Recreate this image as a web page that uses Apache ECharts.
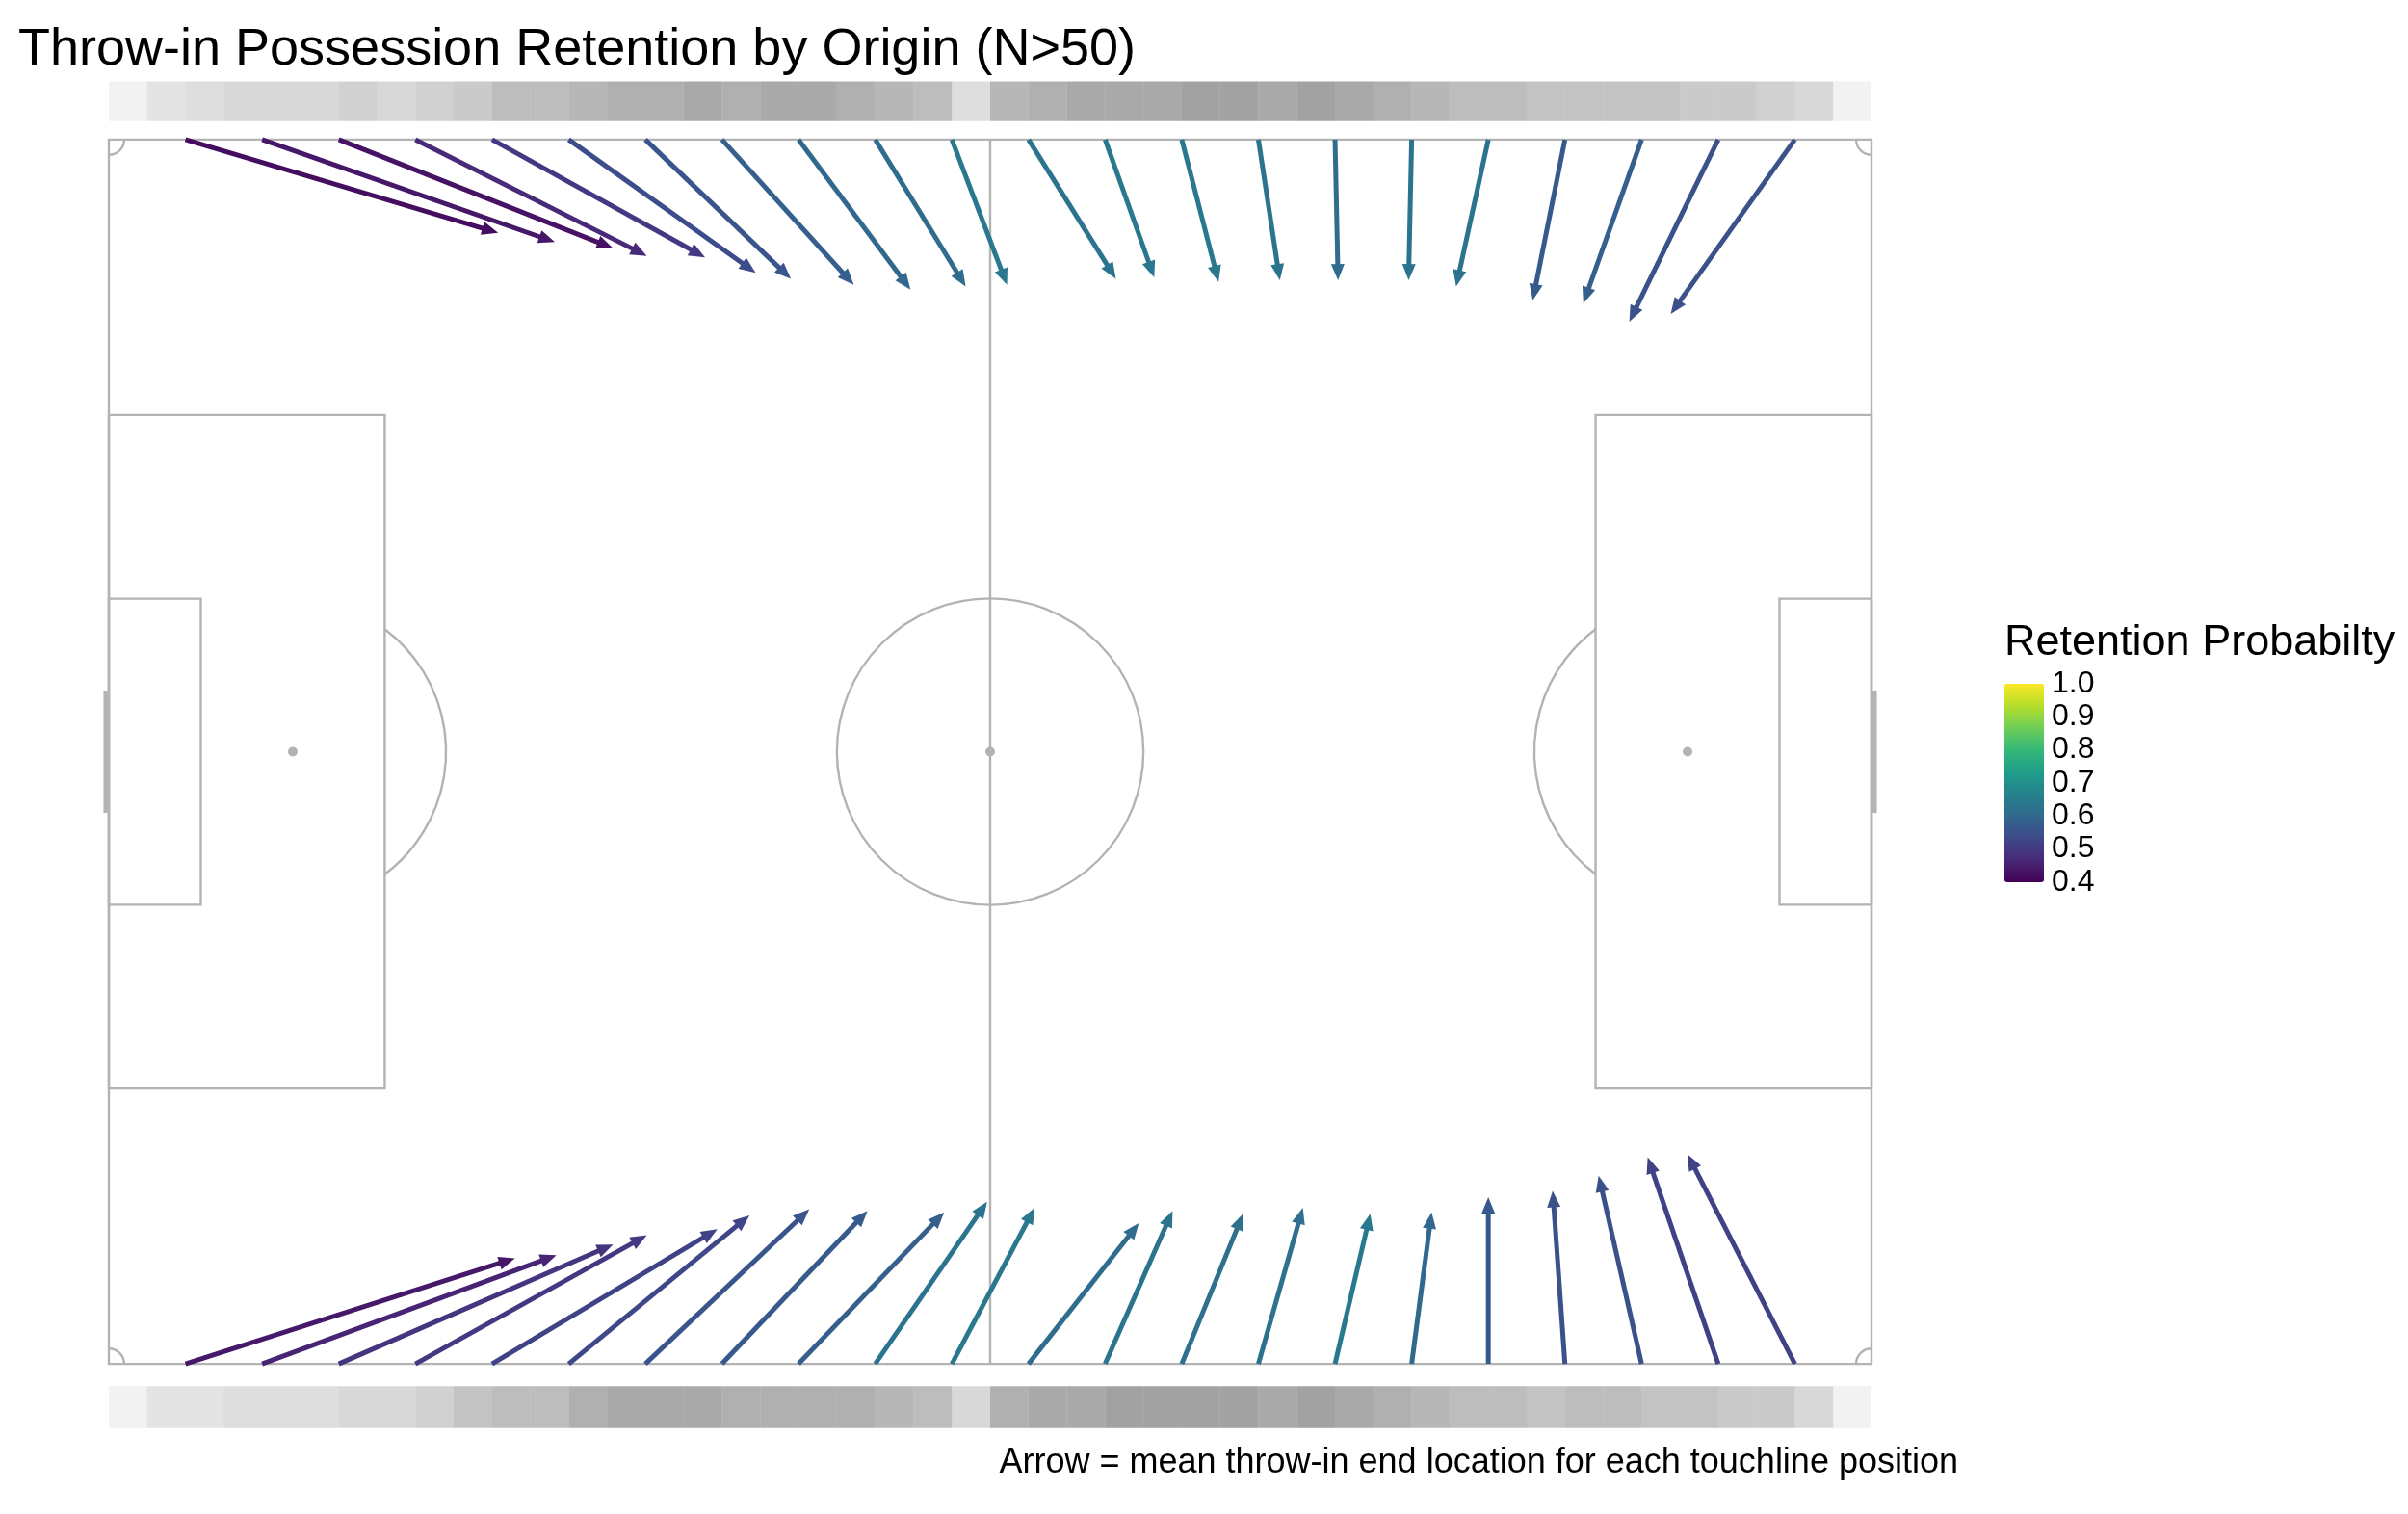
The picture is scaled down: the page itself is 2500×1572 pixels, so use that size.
<!DOCTYPE html>
<html lang="en">
<head>
<meta charset="UTF-8">
<title>Throw-in Possession Retention by Origin</title>
<style>html,body{margin:0;padding:0;background:#fff}#main{width:2500px;height:1572px}</style>
</head>
<body>
<div id="main"></div>
<script src="https://cdn.jsdelivr.net/npm/echarts@6/dist/echarts.min.js"></script>
<script>
// throw-in origins along the touchline (pitch units, 115 x 80)
var originX = [5,10,15,20,25,30,35,40,45,50,55,60,65,70,75,80,85,90,95,100,105,110];

// top touchline (y = 80): mean end location + retention
var topEndX = [25.4,29.1,32.9,35.1,38.9,42.2,44.5,48.6,52.3,55.9,58.6,65.7,68.2,72.4,76.4,80.2,84.8,87.9,92.9,96.2,99.2,101.9];
var topEndY = [73.9,73.3,72.9,72.4,72.3,71.3,70.9,70.5,70.2,70.4,70.5,70.9,71.0,70.7,70.8,70.8,70.8,70.4,69.5,69.3,68.1,68.6];
var topRet  = [0.42,0.44,0.43,0.47,0.50,0.54,0.56,0.58,0.60,0.61,0.64,0.63,0.64,0.64,0.63,0.61,0.63,0.63,0.57,0.58,0.55,0.55];

// bottom touchline (y = 0)
var botEndX = [26.5,29.2,32.9,35.1,39.7,41.8,45.7,49.5,54.5,57.3,60.4,67.2,69.4,74.0,77.9,82.3,86.3,90.0,94.2,97.2,100.4,103.0];
var botEndY = [6.9,7.1,7.8,8.4,8.8,9.7,10.1,10.0,9.9,10.6,10.2,9.2,10.0,9.8,10.2,9.8,9.9,10.9,11.3,12.3,13.5,13.7];
var botRet  = [0.44,0.46,0.49,0.50,0.52,0.53,0.56,0.57,0.58,0.63,0.64,0.61,0.63,0.62,0.62,0.64,0.60,0.57,0.55,0.55,0.52,0.52];

// rug density of throw-in origins, 2.5-unit bins
var rugBin = 2.5;
var topRug = [0.1,0.2,0.25,0.3,0.3,0.3,0.35,0.3,0.35,0.4,0.5,0.5,0.55,0.6,0.6,0.65,0.6,0.65,0.65,0.6,0.55,0.5,0.25,0.55,0.6,0.65,0.65,0.65,0.7,0.7,0.65,0.7,0.65,0.6,0.55,0.5,0.5,0.45,0.45,0.45,0.45,0.4,0.4,0.35,0.3,0.1];
var botRug = [0.1,0.2,0.2,0.25,0.25,0.25,0.3,0.3,0.35,0.45,0.5,0.5,0.6,0.65,0.65,0.65,0.6,0.6,0.6,0.6,0.55,0.5,0.3,0.6,0.65,0.65,0.7,0.7,0.7,0.7,0.65,0.7,0.65,0.6,0.55,0.5,0.5,0.45,0.5,0.5,0.45,0.45,0.4,0.4,0.3,0.1];

var legendTicks = [0.4,0.5,0.6,0.7,0.8,0.9,1.0];
var viridis = ['#440154','#482878','#3e4989','#31688e','#26828e','#1f9e89','#35b779','#6ece58','#b5de2b','#fde725'];

var L = 115, W = 80, LINE = '#b3b3b3';

var arrows = [];
originX.forEach(function (x, i) {
    arrows.push([x, W, topEndX[i], topEndY[i], topRet[i]]);
    arrows.push([x, 0, botEndX[i], botEndY[i], botRet[i]]);
});
var rugData = [];
topRug.forEach(function (d, i) { rugData.push([i * rugBin, 81.2, 83.8, d]); });
botRug.forEach(function (d, i) { rugData.push([i * rugBin, -4.2, -1.45, d]); });

function pitchItem(params, api) {
    var c = function (x, y) { return api.coord([x, y]); };
    var s = {stroke: LINE, lineWidth: 2.4, fill: null};
    var els = [];
    function rect(x0, y0, x1, y1) {
        var a = c(x0, y1), b = c(x1, y0);
        els.push({type: 'rect', shape: {x: a[0], y: a[1], width: b[0] - a[0], height: b[1] - a[1]}, style: s});
    }
    function line(x0, y0, x1, y1) {
        var a = c(x0, y0), b = c(x1, y1);
        els.push({type: 'line', shape: {x1: a[0], y1: a[1], x2: b[0], y2: b[1]}, style: s});
    }
    var unit = c(1, 0)[0] - c(0, 0)[0];
    function arc(x, y, r, a0, a1) {
        var p = c(x, y);
        els.push({type: 'arc', shape: {cx: p[0], cy: p[1], r: r * unit, startAngle: a0, endAngle: a1}, style: s});
    }
    function dot(x, y) {
        var p = c(x, y);
        els.push({type: 'circle', shape: {cx: p[0], cy: p[1], r: 5}, style: {fill: LINE}});
    }
    rect(0, 0, L, W);
    line(L / 2, 0, L / 2, W);
    arc(L / 2, W / 2, 10, 0, Math.PI * 2);
    dot(L / 2, W / 2);
    rect(0, 18, 18, 62); rect(L - 18, 18, L, 62);
    rect(0, 30, 6, 50); rect(L - 6, 30, L, 50);
    dot(12, W / 2); dot(L - 12, W / 2);
    var ang = Math.acos(6 / 10);
    arc(12, W / 2, 10, -ang, ang);
    arc(L - 12, W / 2, 10, Math.PI - ang, Math.PI + ang);
    arc(0, W, 1, 0, Math.PI / 2); arc(L, W, 1, Math.PI / 2, Math.PI);
    arc(0, 0, 1, -Math.PI / 2, 0); arc(L, 0, 1, Math.PI, Math.PI * 1.5);
    var g0 = c(-0.35, 44), g1 = c(0, 36);
    els.push({type: 'rect', shape: {x: g0[0], y: g0[1], width: g1[0] - g0[0], height: g1[1] - g0[1]}, style: {fill: LINE}});
    var h0 = c(L, 44), h1 = c(L + 0.35, 36);
    els.push({type: 'rect', shape: {x: h0[0], y: h0[1], width: h1[0] - h0[0], height: h1[1] - h0[1]}, style: {fill: LINE}});
    return {type: 'group', children: els};
}

function rugItem(params, api) {
    var a = api.coord([api.value(0), api.value(2)]);
    var b = api.coord([api.value(0) + rugBin, api.value(1)]);
    var d = api.value(3);
    return {type: 'rect', shape: {x: a[0], y: a[1], width: b[0] - a[0], height: b[1] - a[1]},
        style: {fill: 'rgba(90,90,90,' + (d * 0.8) + ')'}};
}

function arrowItem(params, api) {
    var p0 = api.coord([api.value(0), api.value(1)]);
    var p1 = api.coord([api.value(2), api.value(3)]);
    var col = api.visual('color');
    var dx = p1[0] - p0[0], dy = p1[1] - p0[1], len = Math.sqrt(dx * dx + dy * dy);
    var ux = dx / len, uy = dy / len, hl = 17, hw = 7;
    var bx = p1[0] - ux * hl, by = p1[1] - uy * hl;
    return {type: 'group', children: [
        {type: 'line', shape: {x1: p0[0], y1: p0[1], x2: bx + ux * 3, y2: by + uy * 3},
            style: {stroke: col, lineWidth: 5}},
        {type: 'polygon', shape: {points: [p1, [bx - uy * hw, by + ux * hw], [bx + uy * hw, by - ux * hw]]},
            style: {fill: col}}
    ]};
}

var chart = echarts.init(document.getElementById('main'));
chart.setOption({
    backgroundColor: '#fff',
    animation: false,
    title: [{
        text: 'Throw-in Possession Retention by Origin (N>50)',
        left: 14, top: 20,
        textStyle: {fontFamily: 'Liberation Sans', fontWeight: 'normal', fontSize: 54, color: '#000'}
    }, {
        text: 'Arrow = mean throw-in end location for each touchline position',
        right: 462, top: 1496,
        textStyle: {fontFamily: 'Liberation Sans', fontWeight: 'normal', fontSize: 36, color: '#000'}
    }, {
        text: 'Retention Probabilty',
        left: 2076, top: 640,
        textStyle: {fontFamily: 'Liberation Sans', fontWeight: 'normal', fontSize: 45, color: '#000'}
    }],
    grid: [
        {left: 113, right: 557, top: 73.4, bottom: 84.4},
        {left: 2081, width: 41, top: 710, height: 206}
    ],
    xAxis: [
        {type: 'value', min: 0, max: L, show: false, gridIndex: 0},
        {type: 'value', min: 0, max: 1, show: false, gridIndex: 1}
    ],
    yAxis: [
        {type: 'value', min: -4.5, max: 84.5, show: false, gridIndex: 0},
        {type: 'value', min: 0.4, max: 1.0, interval: 0.1, gridIndex: 1, position: 'right',
            axisLine: {show: false}, splitLine: {show: false}, z: 10,
            axisTick: {show: true, inside: true, length: 8, lineStyle: {color: '#fff', width: 2}},
            axisLabel: {fontFamily: 'Liberation Sans', fontSize: 32, color: '#000', margin: 8,
                formatter: function (v) { return legendTicks.indexOf(Math.round(v * 10) / 10) >= 0 ? v.toFixed(1) : ''; }}}
    ],
    visualMap: {
        type: 'continuous', min: 0.4, max: 1.0, dimension: 4, seriesIndex: 2,
        left: 2081, top: 710, itemWidth: 41, itemHeight: 206, padding: 0,
        text: null, showLabel: false, calculable: false, hoverLink: false,
        inRange: {color: viridis}
    },
    series: [
        {type: 'custom', renderItem: pitchItem, data: [[0, 0]], xAxisIndex: 0, yAxisIndex: 0, silent: true, z: 1},
        {type: 'custom', renderItem: rugItem, data: rugData, xAxisIndex: 0, yAxisIndex: 0, silent: true, z: 1},
        {type: 'custom', renderItem: arrowItem, data: arrows, xAxisIndex: 0, yAxisIndex: 0, z: 3}
    ]
});
</script>
</body>
</html>
